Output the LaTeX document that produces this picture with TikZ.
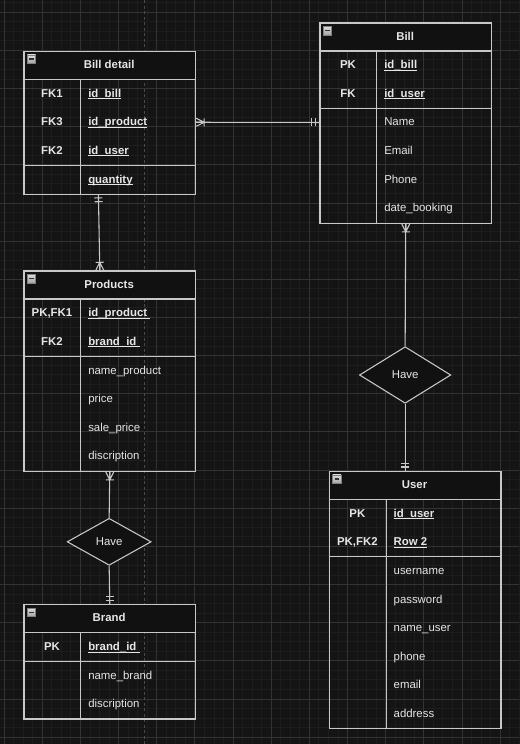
\documentclass[tikz,border=0pt]{standalone}
\usepackage{fontspec}
\setmainfont{Liberation Sans}
\usetikzlibrary{shapes.geometric,calc}
\definecolor{bgc}{HTML}{141414}
\definecolor{gridminor}{HTML}{1D1D1D}
\definecolor{gridmajor}{HTML}{333333}
\definecolor{pagebrk}{HTML}{4A4A4A}
\definecolor{headc}{HTML}{111111}
\definecolor{linec}{HTML}{C8C8C8}
\definecolor{txtc}{HTML}{E6E6E6}
\definecolor{iconhi}{HTML}{DADADA}
\definecolor{iconlo}{HTML}{A4A4A4}
\definecolor{iconline}{HTML}{808080}
\definecolor{icondash}{HTML}{333333}

\newcommand\ku[1]{{\bfseries\setbox0=\hbox{#1}\rlap{\rule[-1.5pt]{\wd0}{0.7pt}}\box0}}

\tikzset{
  every node/.style={font=\fontsize{8.55}{10}\selectfont, text=txtc},
  tline/.style={draw=linec, line width=0.9pt},
  tablebox/.style={draw=linec, line width=0.9pt, rectangle, inner sep=0pt, minimum width=128.775pt},
  hdrtxt/.style={font=\fontsize{8.55}{10}\selectfont\bfseries, anchor=mid, inner sep=0pt},
  keytxt/.style={font=\fontsize{8.55}{10}\selectfont\bfseries, anchor=mid, inner sep=0pt},
  fldtxt/.style={anchor=mid west, inner sep=0pt},
  conn/.style={draw=linec, line width=0.8pt},
  relshape/.style={diamond, draw=linec, line width=0.8pt, fill=headc, inner sep=0pt},
  iconbox/.style={rectangle, draw=iconline, line width=0.5pt, top color=iconhi, bottom color=iconlo, minimum size=6.3pt, inner sep=0pt},
  gridmin/.style={draw=gridminor, line width=0.75pt},
  gridmaj/.style={draw=gridmajor, line width=0.75pt},
}

% #1 name, #2 x, #3 y, #4 title, #5 nkeys, #6 nrows, #7 rows key/field
\newcommand\ertable[7]{%
  \fill[headc] (#2,#3) rectangle ++(171.7,28.62);
  \node[tablebox, minimum height={(#6+1)*28.62*0.75pt}, anchor=north west] (#1) at (#2,#3) {};
  \draw[tline] (#2,{#3+28.62}) -- ++(171.7,0);
  \draw[tline] ({#2+57.5},{#3+28.62}) -- ({#2+57.5},{#3+28.62*(#6+1)});
  \draw[tline] (#2,{#3+28.62*(#5+1)}) -- ++(171.7,0);
  \node[hdrtxt] (#1-title) at ({#2+85.85},{#3+14.31}) {#4};
  \node[iconbox] (#1-icon) at ({#2+8.2},{#3+8.45}) {};
  \draw[draw=icondash, line width=1.1pt] ($(#1-icon.center)+(-2.4,0)$) -- ($(#1-icon.center)+(2.4,0)$);
  \foreach \keyl/\fldl [count=\i] in {#7} {
    \coordinate (#1-r\i) at (#2,{#3+28.62*\i+14.31});
    \node[keytxt] (#1-k\i) at ($(#1-r\i)+(28.7,0)$) {\keyl};
    \node[fldtxt] (#1-f\i) at ($(#1-r\i)+(64.7,0)$) {\fldl};
  }
}
\newcommand\mkone[2]{\begin{scope}[shift={(#1)}, rotate=#2]\draw[conn] (3.7,-4) -- (3.7,4) (7.5,-4) -- (7.5,4);\end{scope}}
\newcommand\mkmany[2]{\begin{scope}[shift={(#1)}, rotate=#2]\draw[conn] (0,-4) -- (8,0) -- (0,4) (0,0) -- (8,0) (8,-4) -- (8,4);\end{scope}}

\begin{document}
\begin{tikzpicture}[x=0.75pt,y=-0.75pt]
\useasboundingbox (0,0) rectangle (519,744);
\fill[bgc] (0,0) rectangle (519,744);
% grid
\foreach \i in {0,...,54} \draw[gridmin] ({4.2+9.5375*\i},0) -- ({4.2+9.5375*\i},744);
\foreach \i in {0,...,77} \draw[gridmin] (0,{2.76+9.5375*\i}) -- (519,{2.76+9.5375*\i});
\foreach \i in {0,...,13} \draw[gridmaj] ({4.2+38.15*\i},0) -- ({4.2+38.15*\i},744);
\foreach \i in {0,...,19} \draw[gridmaj] (0,{12.3+38.15*\i}) -- (519,{12.3+38.15*\i});
% page break
\draw[draw=pagebrk, line width=0.75pt, dash pattern=on 2.25pt off 1.9pt] (144.7,0) -- (144.7,744);

% tables
\ertable{bd}{23.3}{50.7}{Bill detail}{3}{4}{FK1/\ku{id\_bill}, FK3/\ku{id\_product}, FK2/\ku{id\_user}, /\ku{quantity}}
\ertable{bill}{319.3}{22.3}{Bill}{2}{6}{PK/\ku{id\_bill}, FK/\ku{id\_user}, /Name, /Email, /Phone, /date\_booking}
\ertable{prod}{23.3}{270.3}{Products}{2}{6}{{PK,FK1}/\ku{id\_product\ }, FK2/\ku{brand\_id\ }, /name\_product, /price, /sale\_price, /discription}
\ertable{user}{328.7}{470.7}{User}{2}{8}{PK/\ku{id\_user}, {PK,FK2}/\ku{Row 2}, /username, /password, /name\_user, /phone, /email, /address}
\ertable{brand}{23.3}{604}{Brand}{1}{3}{PK/\ku{brand\_id\ }, /name\_brand, /discription}

% relationships
\node[relshape, minimum width=63pt, minimum height=35.25pt] (have1) at (109.15,541.8) {Have};
\node[relshape, minimum width=68.55pt, minimum height=42.45pt] (have2) at (405.15,375) {Have};

% connectors
\coordinate (c1s) at (bd.east |- bd-r2);
\coordinate (c1e) at (bill.west |- bill-r3);
\draw[conn] (c1s) -- (c1e);
\mkmany{c1s}{0}
\mkone{c1e}{180}

\coordinate (c2s) at (98.4,194.2);
\coordinate (c2e) at (99.8,270.3);
\draw[conn] (c2s) -- (c2e);
\mkone{c2s}{-89}
\mkmany{c2e}{91}

\draw[conn] (prod.south) -- (have1.north);
\draw[conn] (have1.south) -- (brand.north);
\mkmany{prod.south}{-90}
\mkone{brand.north}{90}

\coordinate (c4e) at (have2.south |- user.north);
\draw[conn] (bill.south) -- (have2.north);
\draw[conn] (have2.south) -- (c4e);
\mkmany{bill.south}{-90}
\mkone{c4e}{90}
\end{tikzpicture}
\end{document}
